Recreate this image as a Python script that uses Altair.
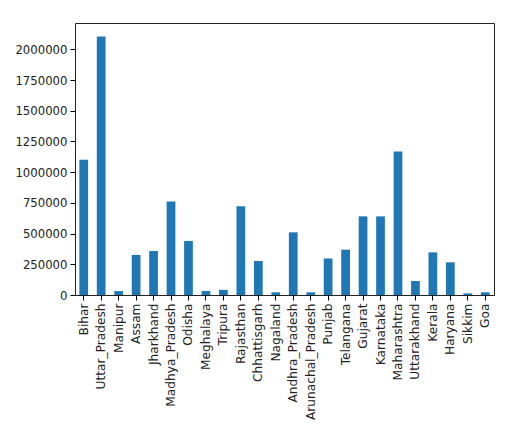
import altair as alt
import pandas as pd

# state names and counts
states = ['Bihar', 'Uttar_Pradesh', 'Manipur', 'Assam', 'Jharkhand', 'Madhya_Pradesh',
          'Odisha', 'Meghalaya', 'Tripura', 'Rajasthan', 'Chhattisgarh', 'Nagaland',
          'Andhra_Pradesh', 'Arunachal_Pradesh', 'Punjab', 'Telangana', 'Gujarat',
          'Karnataka', 'Maharashtra', 'Uttarakhand', 'Kerala', 'Haryana', 'Sikkim', 'Goa']
counts = [1100000, 2105000, 32000, 326000, 358000, 762000,
          440000, 33000, 42000, 722000, 277000, 22000,
          510000, 22000, 298000, 369000, 640000,
          640000, 1169000, 114000, 347000, 266000, 13000, 22000]
yticks = [0, 250000, 500000, 750000, 1000000, 1250000, 1500000, 1750000, 2000000]

source = pd.DataFrame({'state': states, 'count': counts})

font = 'DejaVu Sans'

chart = alt.Chart(source).mark_bar(color='#1f77b4').encode(
    x=alt.X('state:N', sort=states, title=None,
            scale=alt.Scale(paddingInner=0.5, paddingOuter=0.25),
            axis=alt.Axis(labelAngle=270, labelAlign='right', labelBaseline='middle',
                          labelPadding=3, tickSize=5, tickColor='#000',
                          domain=False, labelColor='#222', labelFontSize=12.2,
                          labelFont=font)),
    y=alt.Y('count:Q', title=None,
            scale=alt.Scale(domain=[0, 2214000], nice=False, zero=True),
            axis=alt.Axis(values=yticks, format='d', grid=False, tickSize=5,
                          tickColor='#000', domain=False, labelColor='#222',
                          labelFontSize=11.7, labelFont=font, labelPadding=3)),
).properties(
    width=419,
    height=272,
    autosize=alt.AutoSizeParams(type='none'),
    padding={'left': 67, 'top': 15, 'right': 15, 'bottom': 130},
).configure_view(
    stroke='#222',
    strokeWidth=1,
)

chart.save("out.html", embed_options={"renderer": "svg", "actions": False})
